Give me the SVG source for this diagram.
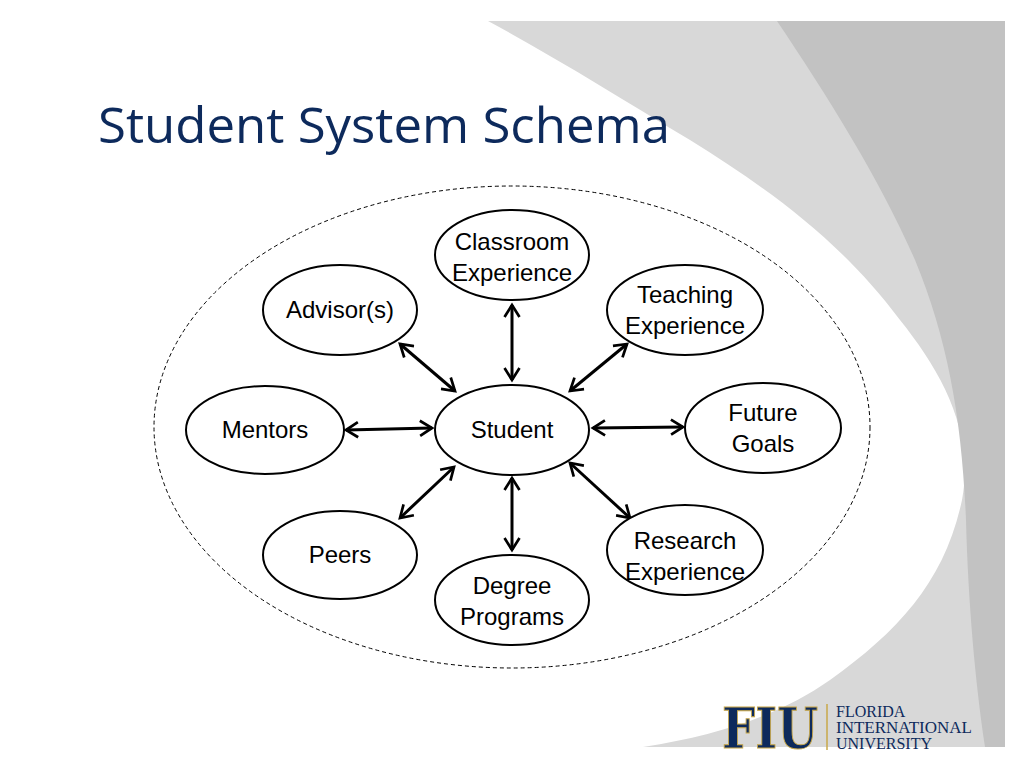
<svg xmlns="http://www.w3.org/2000/svg" width="1024" height="768" viewBox="0 0 1024 768">
<style>
.n{fill:#fff;stroke:#000;stroke-width:2}
.t{font-family:"Liberation Sans",Arial,sans-serif;font-size:24px;fill:#000;text-anchor:middle}
.c line{stroke:#000;stroke-width:3;marker-start:url(#a);marker-end:url(#a)}
.l{font-family:"Liberation Serif",serif;font-size:16px;fill:#0d2a5c}
</style>
<defs>
<marker id="a" viewBox="0 0 12 12" refX="10" refY="6" markerWidth="6" markerHeight="6" orient="auto-start-reverse" markerUnits="strokeWidth">
<path d="M2,1 L10,6 L2,11" fill="none" stroke="#000" stroke-width="1.8"/>
</marker>
</defs>
<rect width="1024" height="768" fill="#fff"/>
<path d="M488,21 L1005,21 L1005,747 L643,747 C720,735 780,715 830,680 C900,630 945,580 962,500 C975,430 940,370 900,320 C840,240 770,190 690,140 C620,98 560,60 488,21 Z" fill="#d8d8d8"/>
<path d="M777,21 L1005,21 L1005,747 L985,747 C975,680 968,600 966,520 C962,420 948,340 915,260 C880,180 830,100 777,21 Z" fill="#c2c2c2"/>
<text x="98" y="143" font-family="'Open Sans','DejaVu Sans',sans-serif" font-size="50" fill="#0d2a5c" textLength="572" lengthAdjust="spacingAndGlyphs">Student System Schema</text>
<ellipse cx="512" cy="427" rx="358" ry="241" fill="none" stroke="#000" stroke-width="1" stroke-dasharray="4,3"/>
<g class="c" id="connectors">
<line x1="512" y1="305" x2="512" y2="380"/>
<line x1="627" y1="344" x2="570" y2="391"/>
<line x1="400" y1="344" x2="455" y2="391"/>
<line x1="346" y1="430" x2="432" y2="428"/>
<line x1="593" y1="428" x2="683" y2="427"/>
<line x1="400" y1="518" x2="454" y2="467"/>
<line x1="512" y1="478" x2="512" y2="550"/>
<line x1="570" y1="463" x2="630" y2="518"/>
</g>
<g id="classroom"><ellipse class="n" cx="512" cy="255" rx="77" ry="45"/><text class="t" x="512" y="250">Classroom</text><text class="t" x="512" y="281">Experience</text></g>
<g id="teaching"><ellipse class="n" cx="685" cy="310" rx="78" ry="45"/><text class="t" x="685" y="303">Teaching</text><text class="t" x="685" y="334">Experience</text></g>
<g id="advisor"><ellipse class="n" cx="340" cy="310" rx="77" ry="45"/><text class="t" x="340" y="318">Advisor(s)</text></g>
<g id="mentors"><ellipse class="n" cx="265" cy="430" rx="79" ry="44"/><text class="t" x="265" y="438">Mentors</text></g>
<g id="student"><ellipse class="n" cx="512" cy="430" rx="77" ry="45"/><text class="t" x="512" y="438">Student</text></g>
<g id="future"><ellipse class="n" cx="763" cy="428" rx="78" ry="45"/><text class="t" x="763" y="421">Future</text><text class="t" x="763" y="452">Goals</text></g>
<g id="peers"><ellipse class="n" cx="340" cy="555" rx="77" ry="44"/><text class="t" x="340" y="563">Peers</text></g>
<g id="degree"><ellipse class="n" cx="512" cy="600" rx="77" ry="45"/><text class="t" x="512" y="594">Degree</text><text class="t" x="512" y="625">Programs</text></g>
<g id="research"><ellipse class="n" cx="685" cy="550" rx="78" ry="45"/><text class="t" x="685" y="549">Research</text><text class="t" x="685" y="580">Experience</text></g>
<g id="logo">
<text x="722" y="748" font-family="'DejaVu Serif',serif" font-weight="bold" font-size="56" fill="#0d2a5c" stroke="#c9a84a" stroke-width="1" textLength="96" lengthAdjust="spacingAndGlyphs">FIU</text>
<line x1="827" y1="704" x2="827" y2="750" stroke="#c9a84a" stroke-width="1.5"/>
<text class="l" x="836" y="717">FLORIDA</text>
<text class="l" x="836" y="733" textLength="136" lengthAdjust="spacingAndGlyphs">INTERNATIONAL</text>
<text class="l" x="836" y="749">UNIVERSITY</text>
</g>
</svg>
